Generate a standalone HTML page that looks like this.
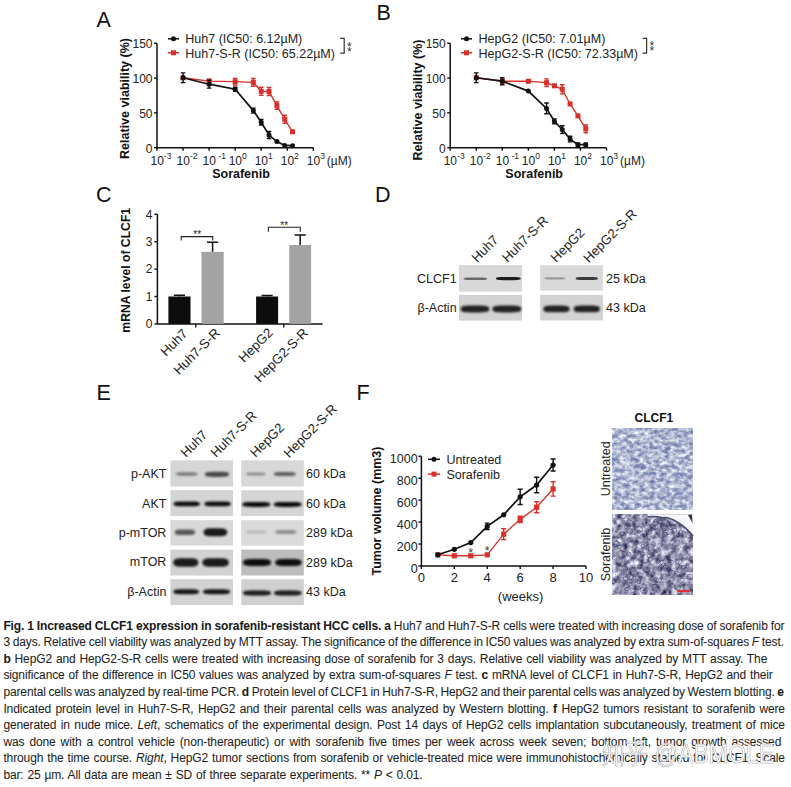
<!DOCTYPE html>
<html><head><meta charset="utf-8"><style>
html,body{margin:0;padding:0;background:#fff;}
body{width:791px;height:787px;position:relative;overflow:hidden;font-family:"Liberation Sans", sans-serif;}
.ln{position:absolute;left:3.4px;font-size:12px;line-height:14px;color:#1e1e1e;white-space:nowrap;-webkit-text-stroke:0.05px #1e1e1e;}
.j{text-align:justify;text-align-last:justify;white-space:normal;height:14px;overflow:visible;}
.ln b{font-weight:bold;color:#1a1a1a;}
.wm{position:absolute;left:602px;top:738.5px;font-size:27px;line-height:30px;color:#fff;-webkit-text-stroke:0.75px #bbb;transform:scaleX(0.855);transform-origin:0 0;white-space:nowrap;}
</style></head><body>
<svg width="791" height="787" viewBox="0 0 791 787" style="position:absolute;left:0;top:0" font-family='"Liberation Sans", sans-serif'><defs><filter id="bl" x="-20%" y="-100%" width="140%" height="300%"><feGaussianBlur stdDeviation="0.9"/></filter><filter id="bl2" x="-20%" y="-100%" width="140%" height="300%"><feGaussianBlur stdDeviation="0.6"/></filter><filter id="ihc1" filterUnits="userSpaceOnUse" x="612.4" y="428.4" width="80.6" height="81.1" color-interpolation-filters="sRGB"><feTurbulence type="fractalNoise" baseFrequency="0.2 0.26" numOctaves="3" seed="11"/><feColorMatrix type="matrix" values="-0.8301 0 0 0 1.1196 -0.8039 0 0 0 1.1353 -0.5556 0 0 0 1.1078 0 0 0 0 1"/><feGaussianBlur stdDeviation="0.45"/></filter><filter id="ihc2" filterUnits="userSpaceOnUse" x="612.4" y="514.2" width="80.6" height="80.8" color-interpolation-filters="sRGB"><feTurbulence type="fractalNoise" baseFrequency="0.18" numOctaves="3" seed="4"/><feColorMatrix type="matrix" values="-1.2170 0 0 0 1.1932 -1.2441 0 0 0 1.2070 -1.0683 0 0 0 1.2233 0 0 0 0 1"/><feGaussianBlur stdDeviation="0.45"/></filter><clipPath id="c1"><rect x="612.4" y="428.4" width="80.6" height="81.1"/></clipPath><clipPath id="c2"><rect x="612.4" y="514.2" width="80.6" height="80.8"/></clipPath><filter id="sb" x="-10%" y="-10%" width="120%" height="120%"><feGaussianBlur stdDeviation="0.55"/></filter></defs><text x="96.50" y="26.90" font-size="21.5" text-anchor="start" font-weight="normal" fill="#111" >A</text>
<text x="376.50" y="19.80" font-size="21.5" text-anchor="start" font-weight="normal" fill="#111" >B</text>
<text x="96.00" y="202.00" font-size="21.5" text-anchor="start" font-weight="normal" fill="#111" >C</text>
<text x="375.00" y="202.20" font-size="21.5" text-anchor="start" font-weight="normal" fill="#111" >D</text>
<text x="96.50" y="399.90" font-size="21.5" text-anchor="start" font-weight="normal" fill="#111" >E</text>
<text x="356.50" y="399.70" font-size="21.5" text-anchor="start" font-weight="normal" fill="#111" >F</text>
<path d="M157.00,43.25 V147.70 H313.30" stroke="#111" stroke-width="1.5" fill="none"/>
<path d="M154.00,147.70 H157.00" stroke="#111" stroke-width="1.4"/>
<text x="152.50" y="152.70" font-size="12" text-anchor="end" font-weight="normal" fill="#222" >0</text>
<path d="M154.00,112.88 H157.00" stroke="#111" stroke-width="1.4"/>
<text x="152.50" y="117.88" font-size="12" text-anchor="end" font-weight="normal" fill="#222" >50</text>
<path d="M154.00,78.07 H157.00" stroke="#111" stroke-width="1.4"/>
<text x="152.50" y="83.07" font-size="12" text-anchor="end" font-weight="normal" fill="#222" >100</text>
<path d="M154.00,43.25 H157.00" stroke="#111" stroke-width="1.4"/>
<text x="152.50" y="48.25" font-size="12" text-anchor="end" font-weight="normal" fill="#222" >150</text>
<path d="M157.00,147.70 V150.70" stroke="#111" stroke-width="1.4"/>
<text x="150.50" y="164.70" font-size="12" fill="#222">10<tspan dy="-5.5" font-size="8.5">-3</tspan></text>
<path d="M183.05,147.70 V150.70" stroke="#111" stroke-width="1.4"/>
<text x="176.55" y="164.70" font-size="12" fill="#222">10<tspan dy="-5.5" font-size="8.5">-2</tspan></text>
<path d="M209.10,147.70 V150.70" stroke="#111" stroke-width="1.4"/>
<text x="202.60" y="164.70" font-size="12" fill="#222">10<tspan dy="-5.5" font-size="8.5"> -1</tspan></text>
<path d="M235.15,147.70 V150.70" stroke="#111" stroke-width="1.4"/>
<text x="228.65" y="164.70" font-size="12" fill="#222">10<tspan dy="-5.5" font-size="8.5">0</tspan></text>
<path d="M261.20,147.70 V150.70" stroke="#111" stroke-width="1.4"/>
<text x="254.70" y="164.70" font-size="12" fill="#222">10<tspan dy="-5.5" font-size="8.5">1</tspan></text>
<path d="M287.25,147.70 V150.70" stroke="#111" stroke-width="1.4"/>
<text x="280.75" y="164.70" font-size="12" fill="#222">10<tspan dy="-5.5" font-size="8.5">2</tspan></text>
<path d="M313.30,147.70 V150.70" stroke="#111" stroke-width="1.4"/>
<text x="306.80" y="164.70" font-size="12" fill="#222">10<tspan dy="-5.5" font-size="8.5">3</tspan></text>
<text x="326.80" y="164.70" font-size="12" text-anchor="start" font-weight="normal" fill="#222" >(µM)</text>
<text x="241.00" y="178.20" font-size="12.5" text-anchor="middle" font-weight="bold" fill="#111" >Sorafenib</text>
<text transform="translate(129.20,98.48) rotate(-90)" font-size="12.5" font-weight="bold" text-anchor="middle" fill="#111">Relative viability (%)</text>
<polyline points="183.05,77.72 209.10,81.20 235.15,81.69 253.36,82.39 261.20,91.30 269.04,91.51 276.88,105.57 284.73,119.29 292.57,131.82" fill="none" stroke="#d8302a" stroke-width="1.35"/>
<rect x="180.55" y="75.22" width="5" height="5" fill="#d8302a"/>
<path d="M209.10,79.11 V83.29 M206.80,79.11 H211.40 M206.80,83.29 H211.40" stroke="#d8302a" stroke-width="1.4"/>
<rect x="206.60" y="78.70" width="5" height="5" fill="#d8302a"/>
<path d="M235.15,78.35 V85.03 M232.85,78.35 H237.45 M232.85,85.03 H237.45" stroke="#d8302a" stroke-width="1.4"/>
<rect x="232.65" y="79.19" width="5" height="5" fill="#d8302a"/>
<path d="M253.36,78.56 V86.22 M251.06,78.56 H255.66 M251.06,86.22 H255.66" stroke="#d8302a" stroke-width="1.4"/>
<rect x="250.86" y="79.89" width="5" height="5" fill="#d8302a"/>
<path d="M261.20,87.26 V95.34 M258.90,87.26 H263.50 M258.90,95.34 H263.50" stroke="#d8302a" stroke-width="1.4"/>
<rect x="258.70" y="88.80" width="5" height="5" fill="#d8302a"/>
<path d="M269.04,87.47 V95.55 M266.74,87.47 H271.34 M266.74,95.55 H271.34" stroke="#d8302a" stroke-width="1.4"/>
<rect x="266.54" y="89.01" width="5" height="5" fill="#d8302a"/>
<path d="M276.88,101.95 V109.19 M274.58,101.95 H279.18 M274.58,109.19 H279.18" stroke="#d8302a" stroke-width="1.4"/>
<rect x="274.38" y="103.07" width="5" height="5" fill="#d8302a"/>
<path d="M284.73,115.18 V123.40 M282.43,115.18 H287.03 M282.43,123.40 H287.03" stroke="#d8302a" stroke-width="1.4"/>
<rect x="282.23" y="116.79" width="5" height="5" fill="#d8302a"/>
<path d="M292.57,131.13 V132.52 M290.27,131.13 H294.87 M290.27,132.52 H294.87" stroke="#d8302a" stroke-width="1.4"/>
<rect x="290.07" y="129.32" width="5" height="5" fill="#d8302a"/>
<polyline points="183.05,77.72 209.10,84.20 235.15,89.28 253.36,110.59 261.20,122.29 269.04,135.03 276.88,141.57 284.73,145.40 292.57,145.68" fill="none" stroke="#111" stroke-width="1.7"/>
<path d="M183.05,72.85 V82.60 M180.75,72.85 H185.35 M180.75,82.60 H185.35" stroke="#111" stroke-width="1.4"/>
<circle cx="183.05" cy="77.72" r="2.5" fill="#111"/>
<path d="M209.10,80.23 V88.17 M206.80,80.23 H211.40 M206.80,88.17 H211.40" stroke="#111" stroke-width="1.4"/>
<circle cx="209.10" cy="84.20" r="2.5" fill="#111"/>
<path d="M235.15,87.19 V91.37 M232.85,87.19 H237.45 M232.85,91.37 H237.45" stroke="#111" stroke-width="1.4"/>
<circle cx="235.15" cy="89.28" r="2.5" fill="#111"/>
<path d="M253.36,108.08 V113.09 M251.06,108.08 H255.66 M251.06,113.09 H255.66" stroke="#111" stroke-width="1.4"/>
<circle cx="253.36" cy="110.59" r="2.5" fill="#111"/>
<path d="M261.20,119.50 V125.07 M258.90,119.50 H263.50 M258.90,125.07 H263.50" stroke="#111" stroke-width="1.4"/>
<circle cx="261.20" cy="122.29" r="2.5" fill="#111"/>
<path d="M269.04,131.55 V138.51 M266.74,131.55 H271.34 M266.74,138.51 H271.34" stroke="#111" stroke-width="1.4"/>
<circle cx="269.04" cy="135.03" r="2.5" fill="#111"/>
<circle cx="276.88" cy="141.57" r="2.5" fill="#111"/>
<circle cx="284.73" cy="145.40" r="2.5" fill="#111"/>
<circle cx="292.57" cy="145.68" r="2.5" fill="#111"/>
<path d="M168.00,38.80 h11" stroke="#111" stroke-width="1.5"/><circle cx="173.50" cy="38.8" r="2.5" fill="#111"/>
<path d="M168.00,52.80 h11" stroke="#d8302a" stroke-width="1.5"/><rect x="171.00" y="50.3" width="5" height="5" fill="#d8302a"/>
<text x="185.30" y="43.30" font-size="12.5" text-anchor="start" font-weight="normal" fill="#222" >Huh7 (IC50: 6.12µM)</text>
<text x="185.30" y="57.50" font-size="12.5" text-anchor="start" font-weight="normal" fill="#222" >Huh7-S-R (IC50: 65.22µM)</text>
<path d="M340.20,38.3 h4 V53.2 h-4" stroke="#333" stroke-width="1.2" fill="none"/>
<text x="349.40" y="50.80" font-size="12" fill="#333" text-anchor="middle">*</text>
<text x="349.40" y="55.60" font-size="12" fill="#333" text-anchor="middle">*</text>
<path d="M450.20,43.25 V147.70 H606.50" stroke="#111" stroke-width="1.5" fill="none"/>
<path d="M447.20,147.70 H450.20" stroke="#111" stroke-width="1.4"/>
<text x="445.70" y="152.70" font-size="12" text-anchor="end" font-weight="normal" fill="#222" >0</text>
<path d="M447.20,112.88 H450.20" stroke="#111" stroke-width="1.4"/>
<text x="445.70" y="117.88" font-size="12" text-anchor="end" font-weight="normal" fill="#222" >50</text>
<path d="M447.20,78.07 H450.20" stroke="#111" stroke-width="1.4"/>
<text x="445.70" y="83.07" font-size="12" text-anchor="end" font-weight="normal" fill="#222" >100</text>
<path d="M447.20,43.25 H450.20" stroke="#111" stroke-width="1.4"/>
<text x="445.70" y="48.25" font-size="12" text-anchor="end" font-weight="normal" fill="#222" >150</text>
<path d="M450.20,147.70 V150.70" stroke="#111" stroke-width="1.4"/>
<text x="443.70" y="164.70" font-size="12" fill="#222">10<tspan dy="-5.5" font-size="8.5">-3</tspan></text>
<path d="M476.25,147.70 V150.70" stroke="#111" stroke-width="1.4"/>
<text x="469.75" y="164.70" font-size="12" fill="#222">10<tspan dy="-5.5" font-size="8.5">-2</tspan></text>
<path d="M502.30,147.70 V150.70" stroke="#111" stroke-width="1.4"/>
<text x="495.80" y="164.70" font-size="12" fill="#222">10<tspan dy="-5.5" font-size="8.5"> -1</tspan></text>
<path d="M528.35,147.70 V150.70" stroke="#111" stroke-width="1.4"/>
<text x="521.85" y="164.70" font-size="12" fill="#222">10<tspan dy="-5.5" font-size="8.5">0</tspan></text>
<path d="M554.40,147.70 V150.70" stroke="#111" stroke-width="1.4"/>
<text x="547.90" y="164.70" font-size="12" fill="#222">10<tspan dy="-5.5" font-size="8.5">1</tspan></text>
<path d="M580.45,147.70 V150.70" stroke="#111" stroke-width="1.4"/>
<text x="573.95" y="164.70" font-size="12" fill="#222">10<tspan dy="-5.5" font-size="8.5">2</tspan></text>
<path d="M606.50,147.70 V150.70" stroke="#111" stroke-width="1.4"/>
<text x="600.00" y="164.70" font-size="12" fill="#222">10<tspan dy="-5.5" font-size="8.5">3</tspan></text>
<text x="620.00" y="164.70" font-size="12" text-anchor="start" font-weight="normal" fill="#222" >(µM)</text>
<text x="534.20" y="178.20" font-size="12.5" text-anchor="middle" font-weight="bold" fill="#111" >Sorafenib</text>
<text transform="translate(422.30,99.98) rotate(-90)" font-size="12.5" font-weight="bold" text-anchor="middle" fill="#111">Relative viability (%)</text>
<polyline points="476.25,77.72 502.30,81.20 528.35,81.20 546.56,82.67 554.40,85.80 562.24,89.28 570.08,103.97 577.93,115.88 585.77,128.90" fill="none" stroke="#d8302a" stroke-width="1.35"/>
<rect x="473.75" y="75.22" width="5" height="5" fill="#d8302a"/>
<path d="M502.30,79.81 V82.60 M500.00,79.81 H504.60 M500.00,82.60 H504.60" stroke="#d8302a" stroke-width="1.4"/>
<rect x="499.80" y="78.70" width="5" height="5" fill="#d8302a"/>
<path d="M528.35,79.81 V82.60 M526.05,79.81 H530.65 M526.05,82.60 H530.65" stroke="#d8302a" stroke-width="1.4"/>
<rect x="525.85" y="78.70" width="5" height="5" fill="#d8302a"/>
<path d="M546.56,78.84 V86.50 M544.26,78.84 H548.86 M544.26,86.50 H548.86" stroke="#d8302a" stroke-width="1.4"/>
<rect x="544.06" y="80.17" width="5" height="5" fill="#d8302a"/>
<path d="M554.40,85.10 V86.50 M552.10,85.10 H556.70 M552.10,86.50 H556.70" stroke="#d8302a" stroke-width="1.4"/>
<rect x="551.90" y="83.30" width="5" height="5" fill="#d8302a"/>
<path d="M562.24,84.68 V93.88 M559.94,84.68 H564.54 M559.94,93.88 H564.54" stroke="#d8302a" stroke-width="1.4"/>
<rect x="559.74" y="86.78" width="5" height="5" fill="#d8302a"/>
<rect x="567.58" y="101.47" width="5" height="5" fill="#d8302a"/>
<rect x="575.43" y="113.38" width="5" height="5" fill="#d8302a"/>
<path d="M585.77,125.07 V132.73 M583.47,125.07 H588.07 M583.47,132.73 H588.07" stroke="#d8302a" stroke-width="1.4"/>
<rect x="583.27" y="126.40" width="5" height="5" fill="#d8302a"/>
<polyline points="476.25,77.72 502.30,81.20 528.35,91.09 546.56,108.43 554.40,121.31 562.24,129.53 570.08,139.07 577.93,144.71 585.77,144.71" fill="none" stroke="#111" stroke-width="1.7"/>
<path d="M476.25,72.85 V82.60 M473.95,72.85 H478.55 M473.95,82.60 H478.55" stroke="#111" stroke-width="1.4"/>
<circle cx="476.25" cy="77.72" r="2.5" fill="#111"/>
<path d="M502.30,77.72 V84.68 M500.00,77.72 H504.60 M500.00,84.68 H504.60" stroke="#111" stroke-width="1.4"/>
<circle cx="502.30" cy="81.20" r="2.5" fill="#111"/>
<circle cx="528.35" cy="91.09" r="2.5" fill="#111"/>
<path d="M546.56,103.07 V113.79 M544.26,103.07 H548.86 M544.26,113.79 H548.86" stroke="#111" stroke-width="1.4"/>
<circle cx="546.56" cy="108.43" r="2.5" fill="#111"/>
<path d="M554.40,118.87 V123.75 M552.10,118.87 H556.70 M552.10,123.75 H556.70" stroke="#111" stroke-width="1.4"/>
<circle cx="554.40" cy="121.31" r="2.5" fill="#111"/>
<path d="M562.24,125.70 V133.36 M559.94,125.70 H564.54 M559.94,133.36 H564.54" stroke="#111" stroke-width="1.4"/>
<circle cx="562.24" cy="129.53" r="2.5" fill="#111"/>
<path d="M570.08,136.28 V141.85 M567.78,136.28 H572.38 M567.78,141.85 H572.38" stroke="#111" stroke-width="1.4"/>
<circle cx="570.08" cy="139.07" r="2.5" fill="#111"/>
<path d="M577.93,142.97 V146.45 M575.63,142.97 H580.23 M575.63,146.45 H580.23" stroke="#111" stroke-width="1.4"/>
<circle cx="577.93" cy="144.71" r="2.5" fill="#111"/>
<path d="M585.77,143.31 V146.10 M583.47,143.31 H588.07 M583.47,146.10 H588.07" stroke="#111" stroke-width="1.4"/>
<circle cx="585.77" cy="144.71" r="2.5" fill="#111"/>
<path d="M461.00,38.80 h11" stroke="#111" stroke-width="1.5"/><circle cx="466.50" cy="38.8" r="2.5" fill="#111"/>
<path d="M461.00,52.80 h11" stroke="#d8302a" stroke-width="1.5"/><rect x="464.00" y="50.3" width="5" height="5" fill="#d8302a"/>
<text x="478.60" y="43.30" font-size="12.5" text-anchor="start" font-weight="normal" fill="#222" >HepG2 (IC50: 7.01µM)</text>
<text x="478.60" y="57.50" font-size="12.5" text-anchor="start" font-weight="normal" fill="#222" >HepG2-S-R (IC50: 72.33µM)</text>
<path d="M642.60,38.3 h4 V53.2 h-4" stroke="#333" stroke-width="1.2" fill="none"/>
<text x="651.80" y="49.50" font-size="12" fill="#333" text-anchor="middle">*</text>
<text x="651.80" y="54.50" font-size="12" fill="#333" text-anchor="middle">*</text>
<path d="M157.40,214.30 V323.90 H322.6" stroke="#111" stroke-width="1.5" fill="none"/>
<path d="M154.40,323.90 H157.40" stroke="#111" stroke-width="1.4"/>
<text x="152.40" y="328.20" font-size="12" text-anchor="end" font-weight="normal" fill="#222" >0</text>
<path d="M154.40,296.50 H157.40" stroke="#111" stroke-width="1.4"/>
<text x="152.40" y="300.80" font-size="12" text-anchor="end" font-weight="normal" fill="#222" >1</text>
<path d="M154.40,269.10 H157.40" stroke="#111" stroke-width="1.4"/>
<text x="152.40" y="273.40" font-size="12" text-anchor="end" font-weight="normal" fill="#222" >2</text>
<path d="M154.40,241.70 H157.40" stroke="#111" stroke-width="1.4"/>
<text x="152.40" y="246.00" font-size="12" text-anchor="end" font-weight="normal" fill="#222" >3</text>
<path d="M154.40,214.30 H157.40" stroke="#111" stroke-width="1.4"/>
<text x="152.40" y="218.60" font-size="12" text-anchor="end" font-weight="normal" fill="#222" >4</text>
<path d="M195.8,323.9 V327.4" stroke="#111" stroke-width="1.4"/>
<path d="M283.8,323.9 V327.4" stroke="#111" stroke-width="1.4"/>
<rect x="168.4" y="296.50" width="22.10" height="27.40" fill="#0d0d0d"/>
<path d="M179.45,296.50 V295.13 M173.85,295.13 H185.05" stroke="#111" stroke-width="1.5"/>
<rect x="201.5" y="251.84" width="22.20" height="72.06" fill="#a3a3a3"/>
<path d="M212.60,251.84 V242.25 M207.00,242.25 H218.20" stroke="#111" stroke-width="1.5"/>
<rect x="256.1" y="296.50" width="22.00" height="27.40" fill="#0d0d0d"/>
<path d="M267.10,296.50 V295.40 M261.50,295.40 H272.70" stroke="#111" stroke-width="1.5"/>
<rect x="289.2" y="244.99" width="21.90" height="78.91" fill="#a3a3a3"/>
<path d="M300.15,244.99 V235.12 M294.55,235.12 H305.75" stroke="#111" stroke-width="1.5"/>
<path d="M181.2,240.4 V236.6 H212.7 V240.4" stroke="#222" stroke-width="1.1" fill="none"/>
<path d="M268.4,231.7 V227.3 H300.3 V231.7" stroke="#222" stroke-width="1.1" fill="none"/>
<text x="197.20" y="238.00" font-size="10" text-anchor="middle" font-weight="normal" fill="#222" >**</text>
<text x="284.20" y="228.80" font-size="10" text-anchor="middle" font-weight="normal" fill="#222" >**</text>
<text transform="translate(130.2,270.3) rotate(-90)" font-size="12.2" font-weight="bold" text-anchor="middle" fill="#111">mRNA level of CLCF1</text>
<text transform="translate(188.5,334.5) rotate(-45)" font-size="13.3" text-anchor="end" fill="#222">Huh7</text>
<text transform="translate(220.7,333.8) rotate(-45)" font-size="13.3" text-anchor="end" fill="#222">Huh7-S-R</text>
<text transform="translate(273.8,333.5) rotate(-45)" font-size="13.3" text-anchor="end" fill="#222">HepG2</text>
<text transform="translate(308.8,333.8) rotate(-45)" font-size="13.3" text-anchor="end" fill="#222">HepG2-S-R</text>
<rect x="459.00" y="265.00" width="63.10" height="26.60" fill="#d8d8d8"/>
<rect x="540.20" y="265.20" width="62.70" height="25.50" fill="#d9d9d9"/>
<rect x="459.00" y="294.90" width="63.10" height="25.70" fill="#d2d2d2"/>
<rect x="540.20" y="294.80" width="62.70" height="25.70" fill="#d2d2d2"/>
<path d="M463.40,278.70 C463.40,277.72 465.79,277.40 471.05,277.40 L479.65,277.40 C484.91,277.40 487.30,277.72 487.30,278.70 C487.30,279.68 484.91,280.00 479.65,280.00 L471.05,280.00 C465.79,280.00 463.40,279.68 463.40,278.70Z" fill="#6a6a6a" filter="url(#bl2)"/>
<path d="M495.80,278.60 C495.80,277.36 498.29,276.95 503.77,276.95 L512.73,276.95 C518.21,276.95 520.70,277.36 520.70,278.60 C520.70,279.84 518.21,280.25 512.73,280.25 L503.77,280.25 C498.29,280.25 495.80,279.84 495.80,278.60Z" fill="#1e1e1e" filter="url(#bl2)"/>
<path d="M544.30,278.40 C544.30,277.57 546.42,277.30 551.08,277.30 L558.72,277.30 C563.38,277.30 565.50,277.57 565.50,278.40 C565.50,279.22 563.38,279.50 558.72,279.50 L551.08,279.50 C546.42,279.50 544.30,279.22 544.30,278.40Z" fill="#9a9a9a" filter="url(#bl2)"/>
<path d="M575.60,278.40 C575.60,277.27 577.83,276.90 582.74,276.90 L590.76,276.90 C595.67,276.90 597.90,277.27 597.90,278.40 C597.90,279.52 595.67,279.90 590.76,279.90 L582.74,279.90 C577.83,279.90 575.60,279.52 575.60,278.40Z" fill="#3a3a3a" filter="url(#bl2)"/>
<path d="M460.60,309.00 C460.60,306.45 463.47,305.60 469.78,305.60 L480.12,305.60 C486.43,305.60 489.30,306.45 489.30,309.00 C489.30,311.55 486.43,312.40 480.12,312.40 L469.78,312.40 C463.47,312.40 460.60,311.55 460.60,309.00Z" fill="#222" filter="url(#bl)"/>
<path d="M492.40,309.00 C492.40,306.45 495.29,305.60 501.65,305.60 L512.05,305.60 C518.41,305.60 521.30,306.45 521.30,309.00 C521.30,311.55 518.41,312.40 512.05,312.40 L501.65,312.40 C495.29,312.40 492.40,311.55 492.40,309.00Z" fill="#222" filter="url(#bl)"/>
<path d="M543.30,308.90 C543.30,306.35 545.93,305.50 551.72,305.50 L561.18,305.50 C566.97,305.50 569.60,306.35 569.60,308.90 C569.60,311.45 566.97,312.30 561.18,312.30 L551.72,312.30 C545.93,312.30 543.30,311.45 543.30,308.90Z" fill="#222" filter="url(#bl)"/>
<path d="M573.60,308.90 C573.60,306.35 576.23,305.50 582.02,305.50 L591.48,305.50 C597.27,305.50 599.90,306.35 599.90,308.90 C599.90,311.45 597.27,312.30 591.48,312.30 L582.02,312.30 C576.23,312.30 573.60,311.45 573.60,308.90Z" fill="#222" filter="url(#bl)"/>
<text x="456.60" y="283.20" font-size="12.5" text-anchor="end" font-weight="normal" fill="#222" >CLCF1</text>
<text x="456.60" y="311.50" font-size="12.5" text-anchor="end" font-weight="normal" fill="#222" >β-Actin</text>
<text x="606.00" y="282.60" font-size="12.5" text-anchor="start" font-weight="normal" fill="#222" >25 kDa</text>
<text x="606.00" y="312.40" font-size="12.5" text-anchor="start" font-weight="normal" fill="#222" >43 kDa</text>
<text transform="translate(477.00,263.00) rotate(-45)" font-size="13.2" fill="#222">Huh7</text>
<text transform="translate(507.50,263.00) rotate(-45)" font-size="13.2" fill="#222">Huh7-S-R</text>
<text transform="translate(556.00,263.00) rotate(-45)" font-size="13.2" fill="#222">HepG2</text>
<text transform="translate(588.70,263.50) rotate(-45)" font-size="13.2" fill="#222">HepG2-S-R</text>
<rect x="170.40" y="460.30" width="62.60" height="26.30" fill="#d6d6d6"/>
<rect x="241.20" y="460.30" width="62.60" height="26.30" fill="#d8d8d8"/>
<rect x="170.40" y="490.20" width="62.60" height="25.80" fill="#d4d4d4"/>
<rect x="241.20" y="490.20" width="62.60" height="25.80" fill="#d5d5d5"/>
<rect x="170.40" y="520.20" width="62.60" height="25.40" fill="#d8d8d8"/>
<rect x="241.20" y="520.20" width="62.60" height="25.40" fill="#dadada"/>
<rect x="170.40" y="549.60" width="62.60" height="25.90" fill="#d2d2d2"/>
<rect x="241.20" y="549.60" width="62.60" height="25.90" fill="#bdbdbd"/>
<rect x="170.40" y="579.20" width="62.60" height="25.80" fill="#d2d2d2"/>
<rect x="241.20" y="579.20" width="62.60" height="25.80" fill="#d0d0d0"/>
<path d="M175.90,474.10 C175.90,472.79 178.07,472.35 182.84,472.35 L190.66,472.35 C195.43,472.35 197.60,472.79 197.60,474.10 C197.60,475.41 195.43,475.85 190.66,475.85 L182.84,475.85 C178.07,475.85 175.90,475.41 175.90,474.10Z" fill="#7a7a7a" filter="url(#bl)"/>
<path d="M204.90,474.30 C204.90,472.35 207.31,471.70 212.61,471.70 L221.29,471.70 C226.59,471.70 229.00,472.35 229.00,474.30 C229.00,476.25 226.59,476.90 221.29,476.90 L212.61,476.90 C207.31,476.90 204.90,476.25 204.90,474.30Z" fill="#4a4a4a" filter="url(#bl)"/>
<path d="M246.00,474.10 C246.00,472.98 247.96,472.60 252.27,472.60 L259.33,472.60 C263.64,472.60 265.60,472.98 265.60,474.10 C265.60,475.23 263.64,475.60 259.33,475.60 L252.27,475.60 C247.96,475.60 246.00,475.23 246.00,474.10Z" fill="#8f8f8f" filter="url(#bl)"/>
<path d="M273.80,474.00 C273.80,472.43 275.99,471.90 280.81,471.90 L288.69,471.90 C293.51,471.90 295.70,472.43 295.70,474.00 C295.70,475.57 293.51,476.10 288.69,476.10 L280.81,476.10 C275.99,476.10 273.80,475.57 273.80,474.00Z" fill="#5f5f5f" filter="url(#bl)"/>
<path d="M173.50,503.90 C173.50,502.10 176.15,501.50 181.98,501.50 L191.52,501.50 C197.35,501.50 200.00,502.10 200.00,503.90 C200.00,505.70 197.35,506.30 191.52,506.30 L181.98,506.30 C176.15,506.30 173.50,505.70 173.50,503.90Z" fill="#111" filter="url(#bl)"/>
<path d="M204.30,503.90 C204.30,502.10 206.95,501.50 212.78,501.50 L222.32,501.50 C228.15,501.50 230.80,502.10 230.80,503.90 C230.80,505.70 228.15,506.30 222.32,506.30 L212.78,506.30 C206.95,506.30 204.30,505.70 204.30,503.90Z" fill="#111" filter="url(#bl)"/>
<path d="M242.30,504.50 C242.30,502.70 245.10,502.10 251.26,502.10 L261.34,502.10 C267.50,502.10 270.30,502.70 270.30,504.50 C270.30,506.30 267.50,506.90 261.34,506.90 L251.26,506.90 C245.10,506.90 242.30,506.30 242.30,504.50Z" fill="#111" filter="url(#bl)"/>
<path d="M273.80,504.50 C273.80,502.70 276.58,502.10 282.70,502.10 L292.70,502.10 C298.82,502.10 301.60,502.70 301.60,504.50 C301.60,506.30 298.82,506.90 292.70,506.90 L282.70,506.90 C276.58,506.90 273.80,506.30 273.80,504.50Z" fill="#111" filter="url(#bl)"/>
<path d="M174.70,532.30 C174.70,530.20 176.75,529.50 181.26,529.50 L188.64,529.50 C193.15,529.50 195.20,530.20 195.20,532.30 C195.20,534.40 193.15,535.10 188.64,535.10 L181.26,535.10 C176.75,535.10 174.70,534.40 174.70,532.30Z" fill="#5a5a5a" filter="url(#bl)"/>
<path d="M203.60,532.30 C203.60,529.30 205.96,528.30 211.15,528.30 L219.65,528.30 C224.84,528.30 227.20,529.30 227.20,532.30 C227.20,535.30 224.84,536.30 219.65,536.30 L211.15,536.30 C205.96,536.30 203.60,535.30 203.60,532.30Z" fill="#1e1e1e" filter="url(#bl)"/>
<path d="M246.00,532.00 C246.00,530.88 248.05,530.50 252.56,530.50 L259.94,530.50 C264.45,530.50 266.50,530.88 266.50,532.00 C266.50,533.12 264.45,533.50 259.94,533.50 L252.56,533.50 C248.05,533.50 246.00,533.12 246.00,532.00Z" fill="#b5b5b5" filter="url(#bl)"/>
<path d="M275.30,532.00 C275.30,530.50 277.43,530.00 282.12,530.00 L289.78,530.00 C294.47,530.00 296.60,530.50 296.60,532.00 C296.60,533.50 294.47,534.00 289.78,534.00 L282.12,534.00 C277.43,534.00 275.30,533.50 275.30,532.00Z" fill="#8e8e8e" filter="url(#bl)"/>
<path d="M173.30,562.50 C173.30,559.31 175.80,558.25 181.30,558.25 L190.30,558.25 C195.80,558.25 198.30,559.31 198.30,562.50 C198.30,565.69 195.80,566.75 190.30,566.75 L181.30,566.75 C175.80,566.75 173.30,565.69 173.30,562.50Z" fill="#1a1a1a" filter="url(#bl)"/>
<path d="M202.40,562.50 C202.40,559.31 205.04,558.25 210.85,558.25 L220.35,558.25 C226.16,558.25 228.80,559.31 228.80,562.50 C228.80,565.69 226.16,566.75 220.35,566.75 L210.85,566.75 C205.04,566.75 202.40,565.69 202.40,562.50Z" fill="#1a1a1a" filter="url(#bl)"/>
<path d="M243.00,562.60 C243.00,559.98 245.80,559.10 251.96,559.10 L262.04,559.10 C268.20,559.10 271.00,559.98 271.00,562.60 C271.00,565.23 268.20,566.10 262.04,566.10 L251.96,566.10 C245.80,566.10 243.00,565.23 243.00,562.60Z" fill="#0d0d0d" filter="url(#bl)"/>
<path d="M275.30,562.60 C275.30,559.98 277.93,559.10 283.72,559.10 L293.18,559.10 C298.97,559.10 301.60,559.98 301.60,562.60 C301.60,565.23 298.97,566.10 293.18,566.10 L283.72,566.10 C277.93,566.10 275.30,565.23 275.30,562.60Z" fill="#0d0d0d" filter="url(#bl)"/>
<path d="M173.30,591.80 C173.30,589.92 175.87,589.30 181.52,589.30 L190.78,589.30 C196.43,589.30 199.00,589.92 199.00,591.80 C199.00,593.67 196.43,594.30 190.78,594.30 L181.52,594.30 C175.87,594.30 173.30,593.67 173.30,591.80Z" fill="#141414" filter="url(#bl)"/>
<path d="M203.00,591.80 C203.00,589.92 205.70,589.30 211.64,589.30 L221.36,589.30 C227.30,589.30 230.00,589.92 230.00,591.80 C230.00,593.67 227.30,594.30 221.36,594.30 L211.64,594.30 C205.70,594.30 203.00,593.67 203.00,591.80Z" fill="#141414" filter="url(#bl)"/>
<path d="M243.00,593.00 C243.00,591.12 245.80,590.50 251.96,590.50 L262.04,590.50 C268.20,590.50 271.00,591.12 271.00,593.00 C271.00,594.88 268.20,595.50 262.04,595.50 L251.96,595.50 C245.80,595.50 243.00,594.88 243.00,593.00Z" fill="#1a1a1a" filter="url(#bl)"/>
<path d="M274.00,593.00 C274.00,591.12 276.76,590.50 282.83,590.50 L292.77,590.50 C298.84,590.50 301.60,591.12 301.60,593.00 C301.60,594.88 298.84,595.50 292.77,595.50 L282.83,595.50 C276.76,595.50 274.00,594.88 274.00,593.00Z" fill="#1a1a1a" filter="url(#bl)"/>
<text x="166.40" y="477.50" font-size="12.5" text-anchor="end" font-weight="normal" fill="#222" >p-AKT</text>
<text x="166.40" y="508.00" font-size="12.5" text-anchor="end" font-weight="normal" fill="#222" >AKT</text>
<text x="166.40" y="536.50" font-size="12.5" text-anchor="end" font-weight="normal" fill="#222" >p-mTOR</text>
<text x="166.40" y="566.40" font-size="12.5" text-anchor="end" font-weight="normal" fill="#222" >mTOR</text>
<text x="166.40" y="595.50" font-size="12.5" text-anchor="end" font-weight="normal" fill="#222" >β-Actin</text>
<text x="306.10" y="477.90" font-size="12.5" text-anchor="start" font-weight="normal" fill="#222" >60 kDa</text>
<text x="306.10" y="508.00" font-size="12.5" text-anchor="start" font-weight="normal" fill="#222" >60 kDa</text>
<text x="306.10" y="537.20" font-size="12.5" text-anchor="start" font-weight="normal" fill="#222" >289 kDa</text>
<text x="306.10" y="567.00" font-size="12.5" text-anchor="start" font-weight="normal" fill="#222" >289 kDa</text>
<text x="306.10" y="595.60" font-size="12.5" text-anchor="start" font-weight="normal" fill="#222" >43 kDa</text>
<text transform="translate(186.00,458.00) rotate(-45)" font-size="13.2" fill="#222">Huh7</text>
<text transform="translate(216.00,458.00) rotate(-45)" font-size="13.2" fill="#222">Huh7-S-R</text>
<text transform="translate(255.50,458.00) rotate(-45)" font-size="13.2" fill="#222">HepG2</text>
<text transform="translate(289.00,458.50) rotate(-45)" font-size="13.2" fill="#222">HepG2-S-R</text>
<path d="M421.4,456.25 V566.0 H586.00" stroke="#111" stroke-width="1.5" fill="none"/>
<path d="M418.4,566.00 H421.4" stroke="#111" stroke-width="1.4"/>
<text x="417.60" y="572.90" font-size="12.5" text-anchor="end" font-weight="normal" fill="#222" >0</text>
<path d="M418.4,544.05 H421.4" stroke="#111" stroke-width="1.4"/>
<text x="417.60" y="550.95" font-size="12.5" text-anchor="end" font-weight="normal" fill="#222" >200</text>
<path d="M418.4,522.10 H421.4" stroke="#111" stroke-width="1.4"/>
<text x="417.60" y="529.00" font-size="12.5" text-anchor="end" font-weight="normal" fill="#222" >400</text>
<path d="M418.4,500.15 H421.4" stroke="#111" stroke-width="1.4"/>
<text x="417.60" y="507.05" font-size="12.5" text-anchor="end" font-weight="normal" fill="#222" >600</text>
<path d="M418.4,478.20 H421.4" stroke="#111" stroke-width="1.4"/>
<text x="417.60" y="485.10" font-size="12.5" text-anchor="end" font-weight="normal" fill="#222" >800</text>
<path d="M418.4,456.25 H421.4" stroke="#111" stroke-width="1.4"/>
<text x="417.60" y="463.15" font-size="12.5" text-anchor="end" font-weight="normal" fill="#222" >1000</text>
<path d="M421.40,566.0 V569.0" stroke="#111" stroke-width="1.4"/>
<text x="421.40" y="581.70" font-size="13" text-anchor="middle" font-weight="normal" fill="#222" >0</text>
<path d="M454.32,566.0 V569.0" stroke="#111" stroke-width="1.4"/>
<text x="454.32" y="581.70" font-size="13" text-anchor="middle" font-weight="normal" fill="#222" >2</text>
<path d="M487.24,566.0 V569.0" stroke="#111" stroke-width="1.4"/>
<text x="487.24" y="581.70" font-size="13" text-anchor="middle" font-weight="normal" fill="#222" >4</text>
<path d="M520.16,566.0 V569.0" stroke="#111" stroke-width="1.4"/>
<text x="520.16" y="581.70" font-size="13" text-anchor="middle" font-weight="normal" fill="#222" >6</text>
<path d="M553.08,566.0 V569.0" stroke="#111" stroke-width="1.4"/>
<text x="553.08" y="581.70" font-size="13" text-anchor="middle" font-weight="normal" fill="#222" >8</text>
<path d="M586.00,566.0 V569.0" stroke="#111" stroke-width="1.4"/>
<text x="586.00" y="581.70" font-size="13" text-anchor="middle" font-weight="normal" fill="#222" >10</text>
<text x="520.60" y="600.60" font-size="13" text-anchor="middle" font-weight="normal" fill="#222" >(weeks)</text>
<text transform="translate(381.3,511) rotate(-90)" font-size="12.5" font-weight="bold" text-anchor="middle" fill="#111">Tumor wolume (mm3)</text>
<polyline points="437.86,554.81 454.32,555.79 470.78,555.79 487.24,554.81 503.70,534.17 520.16,519.36 536.62,507.28 553.08,488.96" fill="none" stroke="#d8302a" stroke-width="1.35"/>
<rect x="435.26" y="552.21" width="5.2" height="5.2" fill="#d8302a"/>
<rect x="451.72" y="553.19" width="5.2" height="5.2" fill="#d8302a"/>
<rect x="468.18" y="553.19" width="5.2" height="5.2" fill="#d8302a"/>
<rect x="484.64" y="552.21" width="5.2" height="5.2" fill="#d8302a"/>
<path d="M503.70,528.68 V539.66 M501.20,528.68 H506.20 M501.20,539.66 H506.20" stroke="#d8302a" stroke-width="1.4"/>
<rect x="501.10" y="531.57" width="5.2" height="5.2" fill="#d8302a"/>
<path d="M520.16,516.28 V522.43 M517.66,516.28 H522.66 M517.66,522.43 H522.66" stroke="#d8302a" stroke-width="1.4"/>
<rect x="517.56" y="516.76" width="5.2" height="5.2" fill="#d8302a"/>
<path d="M536.62,501.80 V512.77 M534.12,501.80 H539.12 M534.12,512.77 H539.12" stroke="#d8302a" stroke-width="1.4"/>
<rect x="534.02" y="504.68" width="5.2" height="5.2" fill="#d8302a"/>
<path d="M553.08,481.82 V496.09 M550.58,481.82 H555.58 M550.58,496.09 H555.58" stroke="#d8302a" stroke-width="1.4"/>
<rect x="550.48" y="486.36" width="5.2" height="5.2" fill="#d8302a"/>
<polyline points="437.86,554.81 454.32,549.32 470.78,542.62 487.24,526.38 503.70,514.75 520.16,496.86 536.62,485.00 553.08,465.03" fill="none" stroke="#111" stroke-width="1.7"/>
<circle cx="437.86" cy="554.81" r="2.6" fill="#111"/>
<circle cx="454.32" cy="549.32" r="2.6" fill="#111"/>
<circle cx="470.78" cy="542.62" r="2.6" fill="#111"/>
<path d="M487.24,523.09 V529.67 M484.74,523.09 H489.74 M484.74,529.67 H489.74" stroke="#111" stroke-width="1.4"/>
<circle cx="487.24" cy="526.38" r="2.6" fill="#111"/>
<circle cx="503.70" cy="514.75" r="2.6" fill="#111"/>
<path d="M520.16,489.18 V504.54 M517.66,489.18 H522.66 M517.66,504.54 H522.66" stroke="#111" stroke-width="1.4"/>
<circle cx="520.16" cy="496.86" r="2.6" fill="#111"/>
<path d="M536.62,477.32 V492.69 M534.12,477.32 H539.12 M534.12,492.69 H539.12" stroke="#111" stroke-width="1.4"/>
<circle cx="536.62" cy="485.00" r="2.6" fill="#111"/>
<path d="M553.08,458.99 V471.07 M550.58,458.99 H555.58 M550.58,471.07 H555.58" stroke="#111" stroke-width="1.4"/>
<circle cx="553.08" cy="465.03" r="2.6" fill="#111"/>
<path d="M428,459.3 h12" stroke="#111" stroke-width="1.5"/><circle cx="434" cy="459.3" r="2.5" fill="#111"/>
<path d="M428,474.1 h12" stroke="#d8302a" stroke-width="1.5"/><rect x="431.5" y="471.6" width="5" height="5" fill="#d8302a"/>
<text x="446.40" y="463.80" font-size="12.5" text-anchor="start" font-weight="normal" fill="#222" >Untreated</text>
<text x="446.40" y="478.60" font-size="12.5" text-anchor="start" font-weight="normal" fill="#222" >Sorafenib</text>
<text x="470.70" y="556.80" font-size="12.5" text-anchor="middle" font-weight="normal" fill="#1f4636" >*</text>
<text x="487.10" y="554.80" font-size="12.5" text-anchor="middle" font-weight="normal" fill="#1f4636" >*</text>
<rect x="612.4" y="428.4" width="80.6" height="81.1" fill="#bdc8e2" filter="url(#ihc1)"/>
<rect x="612.4" y="514.2" width="80.6" height="80.8" fill="#8686a6" filter="url(#ihc2)"/>
<g clip-path="url(#c1)" fill="#6a78ad" fill-opacity="0.55" filter="url(#sb)"><ellipse cx="625.7" cy="484.3" rx="2.9" ry="1.4" transform="rotate(-15 625.7 484.3)"/><ellipse cx="676.3" cy="493.9" rx="2.7" ry="1.5" transform="rotate(-13 676.3 493.9)"/><ellipse cx="612.7" cy="458.5" rx="2.9" ry="1.1" transform="rotate(26 612.7 458.5)"/><ellipse cx="631.1" cy="447.3" rx="1.9" ry="1.9" transform="rotate(22 631.1 447.3)"/><ellipse cx="682.9" cy="478.3" rx="1.9" ry="1.3" transform="rotate(5 682.9 478.3)"/><ellipse cx="621.7" cy="505.6" rx="2.5" ry="1.1" transform="rotate(27 621.7 505.6)"/><ellipse cx="622.5" cy="503.7" rx="2.6" ry="1.5" transform="rotate(-6 622.5 503.7)"/><ellipse cx="651.5" cy="443.6" rx="1.9" ry="1.8" transform="rotate(-14 651.5 443.6)"/><ellipse cx="675.3" cy="445.3" rx="3.5" ry="1.8" transform="rotate(23 675.3 445.3)"/><ellipse cx="673.9" cy="475.5" rx="3.1" ry="1.1" transform="rotate(3 673.9 475.5)"/><ellipse cx="679.1" cy="444.7" rx="3.5" ry="1.8" transform="rotate(-1 679.1 444.7)"/><ellipse cx="641.8" cy="465.0" rx="2.5" ry="1.9" transform="rotate(-3 641.8 465.0)"/><ellipse cx="614.6" cy="436.0" rx="3.1" ry="1.9" transform="rotate(5 614.6 436.0)"/><ellipse cx="652.0" cy="473.0" rx="3.1" ry="1.2" transform="rotate(13 652.0 473.0)"/><ellipse cx="657.3" cy="478.9" rx="2.1" ry="1.2" transform="rotate(-6 657.3 478.9)"/><ellipse cx="687.1" cy="456.5" rx="2.9" ry="1.3" transform="rotate(-23 687.1 456.5)"/><ellipse cx="617.7" cy="494.4" rx="3.2" ry="1.3" transform="rotate(18 617.7 494.4)"/><ellipse cx="666.9" cy="501.3" rx="3.5" ry="1.4" transform="rotate(39 666.9 501.3)"/><ellipse cx="689.9" cy="476.3" rx="3.4" ry="1.4" transform="rotate(-4 689.9 476.3)"/><ellipse cx="632.3" cy="499.5" rx="2.1" ry="1.1" transform="rotate(26 632.3 499.5)"/><ellipse cx="674.8" cy="467.6" rx="3.3" ry="1.0" transform="rotate(-12 674.8 467.6)"/><ellipse cx="635.8" cy="462.4" rx="2.1" ry="1.1" transform="rotate(-6 635.8 462.4)"/><ellipse cx="684.9" cy="508.2" rx="3.1" ry="1.4" transform="rotate(-12 684.9 508.2)"/><ellipse cx="689.7" cy="471.0" rx="3.1" ry="1.0" transform="rotate(-15 689.7 471.0)"/><ellipse cx="680.0" cy="492.9" rx="3.4" ry="1.5" transform="rotate(-0 680.0 492.9)"/><ellipse cx="659.2" cy="497.3" rx="2.4" ry="1.5" transform="rotate(-11 659.2 497.3)"/><ellipse cx="674.3" cy="429.2" rx="3.0" ry="1.9" transform="rotate(-28 674.3 429.2)"/><ellipse cx="660.3" cy="480.6" rx="3.3" ry="1.5" transform="rotate(-12 660.3 480.6)"/><ellipse cx="645.1" cy="506.2" rx="3.4" ry="1.1" transform="rotate(-23 645.1 506.2)"/><ellipse cx="620.0" cy="430.5" rx="2.6" ry="1.1" transform="rotate(31 620.0 430.5)"/><ellipse cx="665.2" cy="438.7" rx="2.8" ry="1.3" transform="rotate(5 665.2 438.7)"/><ellipse cx="630.1" cy="441.9" rx="2.1" ry="1.3" transform="rotate(20 630.1 441.9)"/><ellipse cx="656.7" cy="432.1" rx="3.1" ry="1.8" transform="rotate(24 656.7 432.1)"/><ellipse cx="676.1" cy="429.0" rx="2.6" ry="1.1" transform="rotate(23 676.1 429.0)"/><ellipse cx="626.5" cy="486.1" rx="2.3" ry="1.6" transform="rotate(-8 626.5 486.1)"/><ellipse cx="615.8" cy="459.9" rx="2.4" ry="1.8" transform="rotate(-9 615.8 459.9)"/><ellipse cx="653.0" cy="473.0" rx="3.5" ry="1.1" transform="rotate(12 653.0 473.0)"/><ellipse cx="653.4" cy="488.0" rx="3.5" ry="1.3" transform="rotate(19 653.4 488.0)"/><ellipse cx="654.8" cy="473.9" rx="1.9" ry="1.7" transform="rotate(38 654.8 473.9)"/><ellipse cx="641.0" cy="454.2" rx="3.6" ry="1.1" transform="rotate(-25 641.0 454.2)"/><ellipse cx="618.3" cy="494.4" rx="3.2" ry="1.4" transform="rotate(13 618.3 494.4)"/><ellipse cx="614.0" cy="480.7" rx="2.6" ry="1.5" transform="rotate(-3 614.0 480.7)"/><ellipse cx="644.8" cy="446.7" rx="1.9" ry="1.4" transform="rotate(-13 644.8 446.7)"/><ellipse cx="669.2" cy="494.7" rx="3.1" ry="1.4" transform="rotate(-13 669.2 494.7)"/><ellipse cx="643.5" cy="467.9" rx="2.9" ry="1.9" transform="rotate(-24 643.5 467.9)"/><ellipse cx="651.1" cy="468.3" rx="3.1" ry="1.8" transform="rotate(25 651.1 468.3)"/><ellipse cx="662.9" cy="489.9" rx="3.0" ry="1.8" transform="rotate(19 662.9 489.9)"/><ellipse cx="667.4" cy="448.3" rx="3.5" ry="1.3" transform="rotate(13 667.4 448.3)"/><ellipse cx="678.9" cy="506.6" rx="3.6" ry="1.0" transform="rotate(-8 678.9 506.6)"/><ellipse cx="637.5" cy="460.1" rx="2.1" ry="1.5" transform="rotate(-24 637.5 460.1)"/><ellipse cx="636.8" cy="504.9" rx="3.1" ry="1.4" transform="rotate(-22 636.8 504.9)"/><ellipse cx="689.5" cy="485.5" rx="2.2" ry="1.3" transform="rotate(15 689.5 485.5)"/><ellipse cx="667.3" cy="449.6" rx="3.5" ry="1.3" transform="rotate(-12 667.3 449.6)"/><ellipse cx="680.5" cy="440.8" rx="3.0" ry="1.2" transform="rotate(12 680.5 440.8)"/><ellipse cx="634.8" cy="459.1" rx="3.5" ry="1.4" transform="rotate(1 634.8 459.1)"/><ellipse cx="662.1" cy="451.2" rx="2.1" ry="1.3" transform="rotate(-11 662.1 451.2)"/><ellipse cx="627.6" cy="506.3" rx="1.9" ry="1.7" transform="rotate(35 627.6 506.3)"/><ellipse cx="669.2" cy="429.9" rx="2.7" ry="1.0" transform="rotate(13 669.2 429.9)"/><ellipse cx="668.9" cy="447.9" rx="1.8" ry="1.5" transform="rotate(-23 668.9 447.9)"/><ellipse cx="637.3" cy="465.2" rx="3.4" ry="1.3" transform="rotate(-21 637.3 465.2)"/><ellipse cx="676.2" cy="495.1" rx="2.8" ry="1.0" transform="rotate(-17 676.2 495.1)"/><ellipse cx="644.9" cy="473.2" rx="2.2" ry="1.7" transform="rotate(29 644.9 473.2)"/><ellipse cx="687.0" cy="500.1" rx="1.8" ry="1.5" transform="rotate(-24 687.0 500.1)"/><ellipse cx="684.9" cy="489.0" rx="3.2" ry="1.2" transform="rotate(-26 684.9 489.0)"/><ellipse cx="678.1" cy="477.6" rx="2.9" ry="1.4" transform="rotate(26 678.1 477.6)"/><ellipse cx="639.6" cy="450.3" rx="2.4" ry="1.3" transform="rotate(14 639.6 450.3)"/><ellipse cx="684.1" cy="434.2" rx="1.9" ry="1.5" transform="rotate(17 684.1 434.2)"/><ellipse cx="627.7" cy="450.3" rx="1.9" ry="1.0" transform="rotate(5 627.7 450.3)"/><ellipse cx="667.3" cy="481.4" rx="2.1" ry="1.1" transform="rotate(35 667.3 481.4)"/><ellipse cx="655.8" cy="461.5" rx="3.0" ry="1.7" transform="rotate(7 655.8 461.5)"/></g>
<g clip-path="url(#c2)" fill="none" stroke="#3e3e66" stroke-opacity="0.6" stroke-width="0.9" filter="url(#sb)"><ellipse cx="618.7" cy="581.0" rx="2.3" ry="1.9"/><ellipse cx="615.7" cy="542.7" rx="2.8" ry="2.3"/><ellipse cx="663.0" cy="528.3" rx="3.1" ry="2.6"/><ellipse cx="652.2" cy="527.3" rx="3.3" ry="2.8"/><ellipse cx="677.4" cy="587.4" rx="3.1" ry="2.6"/><ellipse cx="629.9" cy="577.0" rx="3.4" ry="2.9"/><ellipse cx="655.4" cy="587.6" rx="3.5" ry="3.0"/><ellipse cx="643.8" cy="590.3" rx="3.5" ry="2.9"/><ellipse cx="676.4" cy="515.1" rx="2.5" ry="2.1"/><ellipse cx="661.9" cy="563.3" rx="3.2" ry="2.7"/><ellipse cx="664.5" cy="527.2" rx="3.5" ry="2.9"/><ellipse cx="655.6" cy="585.4" rx="2.3" ry="1.9"/><ellipse cx="692.8" cy="559.0" rx="3.2" ry="2.7"/><ellipse cx="672.0" cy="585.5" rx="2.5" ry="2.1"/><ellipse cx="619.1" cy="547.0" rx="2.2" ry="1.8"/><ellipse cx="655.9" cy="580.0" rx="2.5" ry="2.1"/><ellipse cx="623.0" cy="516.4" rx="2.6" ry="2.2"/><ellipse cx="659.2" cy="516.3" rx="3.0" ry="2.5"/><ellipse cx="629.4" cy="522.8" rx="3.5" ry="2.9"/><ellipse cx="654.6" cy="586.5" rx="2.8" ry="2.3"/><ellipse cx="622.3" cy="533.6" rx="2.6" ry="2.2"/><ellipse cx="664.1" cy="576.5" rx="3.2" ry="2.7"/><ellipse cx="664.9" cy="534.6" rx="2.6" ry="2.2"/><ellipse cx="642.9" cy="553.8" rx="2.4" ry="2.0"/><ellipse cx="655.7" cy="551.3" rx="2.0" ry="1.6"/><ellipse cx="678.7" cy="561.6" rx="3.3" ry="2.7"/><ellipse cx="671.8" cy="573.3" rx="3.6" ry="3.0"/><ellipse cx="642.8" cy="546.0" rx="1.9" ry="1.6"/><ellipse cx="665.9" cy="561.2" rx="2.9" ry="2.4"/><ellipse cx="692.8" cy="530.1" rx="2.3" ry="1.9"/><ellipse cx="671.6" cy="579.8" rx="2.7" ry="2.3"/><ellipse cx="616.8" cy="544.1" rx="3.3" ry="2.8"/><ellipse cx="652.7" cy="551.5" rx="2.6" ry="2.1"/><ellipse cx="663.1" cy="562.6" rx="3.1" ry="2.6"/><ellipse cx="682.1" cy="574.9" rx="2.5" ry="2.1"/><ellipse cx="632.6" cy="577.4" rx="3.3" ry="2.7"/><ellipse cx="687.2" cy="530.3" rx="3.3" ry="2.8"/><ellipse cx="684.2" cy="520.4" rx="2.4" ry="2.0"/><ellipse cx="663.5" cy="526.0" rx="3.3" ry="2.8"/><ellipse cx="633.7" cy="569.3" rx="2.4" ry="2.0"/><ellipse cx="630.0" cy="530.9" rx="2.8" ry="2.3"/><ellipse cx="669.9" cy="531.8" rx="3.1" ry="2.6"/><ellipse cx="639.4" cy="566.7" rx="2.5" ry="2.1"/><ellipse cx="628.0" cy="525.6" rx="2.0" ry="1.7"/><ellipse cx="668.5" cy="547.6" rx="2.1" ry="1.8"/><ellipse cx="683.4" cy="567.1" rx="2.0" ry="1.6"/><ellipse cx="670.8" cy="562.2" rx="2.7" ry="2.2"/><ellipse cx="652.8" cy="591.9" rx="2.5" ry="2.1"/><ellipse cx="663.7" cy="565.6" rx="2.5" ry="2.1"/><ellipse cx="640.3" cy="575.2" rx="3.0" ry="2.5"/><ellipse cx="649.2" cy="555.7" rx="2.3" ry="1.9"/><ellipse cx="676.0" cy="515.8" rx="3.0" ry="2.5"/><ellipse cx="649.1" cy="532.1" rx="2.9" ry="2.4"/><ellipse cx="659.4" cy="521.2" rx="2.7" ry="2.3"/><ellipse cx="625.7" cy="578.8" rx="2.5" ry="2.1"/><ellipse cx="638.9" cy="531.6" rx="2.0" ry="1.7"/><ellipse cx="627.4" cy="526.5" rx="3.0" ry="2.5"/><ellipse cx="680.7" cy="532.1" rx="2.1" ry="1.8"/><ellipse cx="655.5" cy="523.5" rx="2.6" ry="2.2"/><ellipse cx="673.7" cy="530.6" rx="3.1" ry="2.6"/><ellipse cx="655.8" cy="521.1" rx="2.3" ry="1.9"/><ellipse cx="660.7" cy="522.0" rx="2.3" ry="1.9"/><ellipse cx="658.9" cy="580.3" rx="2.8" ry="2.3"/><ellipse cx="665.9" cy="514.9" rx="2.4" ry="2.0"/><ellipse cx="638.0" cy="588.0" rx="2.5" ry="2.1"/><ellipse cx="675.7" cy="517.0" rx="2.8" ry="2.3"/><ellipse cx="684.3" cy="576.5" rx="2.9" ry="2.4"/><ellipse cx="627.1" cy="589.0" rx="2.1" ry="1.7"/><ellipse cx="690.2" cy="576.9" rx="3.1" ry="2.6"/><ellipse cx="655.2" cy="527.4" rx="2.5" ry="2.1"/><ellipse cx="665.9" cy="567.2" rx="2.6" ry="2.1"/><ellipse cx="677.0" cy="518.5" rx="2.4" ry="2.0"/><ellipse cx="619.7" cy="540.4" rx="3.3" ry="2.7"/><ellipse cx="673.1" cy="526.3" rx="2.4" ry="2.0"/><ellipse cx="621.4" cy="567.7" rx="2.7" ry="2.2"/><ellipse cx="631.1" cy="544.4" rx="3.4" ry="2.8"/><ellipse cx="646.7" cy="570.0" rx="3.0" ry="2.5"/><ellipse cx="650.6" cy="559.2" rx="2.5" ry="2.1"/><ellipse cx="628.4" cy="554.1" rx="2.4" ry="2.0"/><ellipse cx="639.0" cy="529.3" rx="3.5" ry="2.9"/><ellipse cx="646.7" cy="530.4" rx="2.0" ry="1.6"/><ellipse cx="629.7" cy="584.4" rx="2.5" ry="2.1"/><ellipse cx="666.2" cy="532.8" rx="3.0" ry="2.5"/><ellipse cx="648.7" cy="573.7" rx="2.8" ry="2.3"/><ellipse cx="642.7" cy="536.8" rx="2.9" ry="2.4"/><ellipse cx="679.4" cy="570.1" rx="2.7" ry="2.3"/><ellipse cx="638.9" cy="586.2" rx="3.3" ry="2.8"/><ellipse cx="624.2" cy="569.1" rx="3.2" ry="2.7"/><ellipse cx="666.9" cy="592.1" rx="3.4" ry="2.8"/><ellipse cx="632.2" cy="594.7" rx="2.5" ry="2.1"/></g>
<path d="M648,514.2 L648,516.8 Q655,516 663,517.8 Q668,516.5 677,522 Q686,527 693,536 V514.2 Z" fill="#f6f6fb"/>
<path d="M648,516.8 Q655,516 663,517.8 Q668,516.5 677,522 Q686,527 693,536" fill="none" stroke="#4a4a72" stroke-width="1.6" filter="url(#bl2)"/>
<path d="M688,515 L692,514.5 L692.5,523 Z" fill="#303050" filter="url(#bl2)"/>
<rect x="677.2" y="590.0" width="12.4" height="2.2" fill="#e0302a"/>
<text x="653.90" y="421.90" font-size="12" text-anchor="middle" font-weight="bold" fill="#111" >CLCF1</text>
<text transform="translate(609.6,468.8) rotate(-90)" font-size="12.5" text-anchor="middle" fill="#222">Untreated</text>
<text transform="translate(609.6,554.6) rotate(-90)" font-size="12.5" text-anchor="middle" fill="#222">Sorafenib</text></svg>
<div class="ln" style="top:618.74px;letter-spacing:-0.12px;word-spacing:-0.194px"><b>Fig. 1 Increased CLCF1 expression in sorafenib-resistant HCC cells. a</b> Huh7 and Huh7-S-R cells were treated with increasing dose of sorafenib for</div><div class="ln" style="top:635.30px;letter-spacing:-0.12px;word-spacing:-0.472px">3 days. Relative cell viability was analyzed by MTT assay. The significance of the difference in IC50 values was analyzed by extra sum-of-squares <i>F</i> test.</div><div class="ln" style="top:651.86px;letter-spacing:-0.12px;word-spacing:0.711px"><b>b</b> HepG2 and HepG2-S-R cells were treated with increasing dose of sorafenib for 3 days. Relative cell viability was analyzed by MTT assay. The</div><div class="ln" style="top:668.42px;letter-spacing:-0.12px;word-spacing:0.639px">significance of the difference in IC50 values was analyzed by extra sum-of-squares <i>F</i> test. <b>c</b> mRNA level of CLCF1 in Huh7-S-R, HepG2 and their</div><div class="ln" style="top:684.98px;letter-spacing:-0.12px;word-spacing:-0.598px">parental cells was analyzed by real-time PCR. <b>d</b> Protein level of CLCF1 in Huh7-S-R, HepG2 and their parental cells was analyzed by Western blotting. <b>e</b></div><div class="ln" style="top:701.54px;letter-spacing:-0.12px;word-spacing:1.235px">Indicated protein level in Huh7-S-R, HepG2 and their parental cells was analyzed by Western blotting. <b>f</b> HepG2 tumors resistant to sorafenib were</div><div class="ln" style="top:718.10px;letter-spacing:-0.12px;word-spacing:1.222px">generated in nude mice. <i>Left</i>, schematics of the experimental design. Post 14 days of HepG2 cells implantation subcutaneously, treatment of mice</div><div class="ln" style="top:734.66px;letter-spacing:-0.12px;word-spacing:1.795px">was done with a control vehicle (non-therapeutic) or with sorafenib five times per week across week seven; bottom left, tumor growth assessed</div><div class="ln" style="top:751.22px;letter-spacing:-0.12px;word-spacing:0.721px">through the time course. <i>Right</i>, HepG2 tumor sections from sorafenib or vehicle-treated mice were immunohistochemically stained for CLCF1. Scale</div><div class="ln" style="top:767.78px;letter-spacing:-0.12px;word-spacing:0.649px">bar: 25 µm. All data are mean ± SD of three separate experiments. ** <i>P</i> &lt; 0.01.</div>
<div class="wm">知乎 @ABMOLE</div>
</body></html>
